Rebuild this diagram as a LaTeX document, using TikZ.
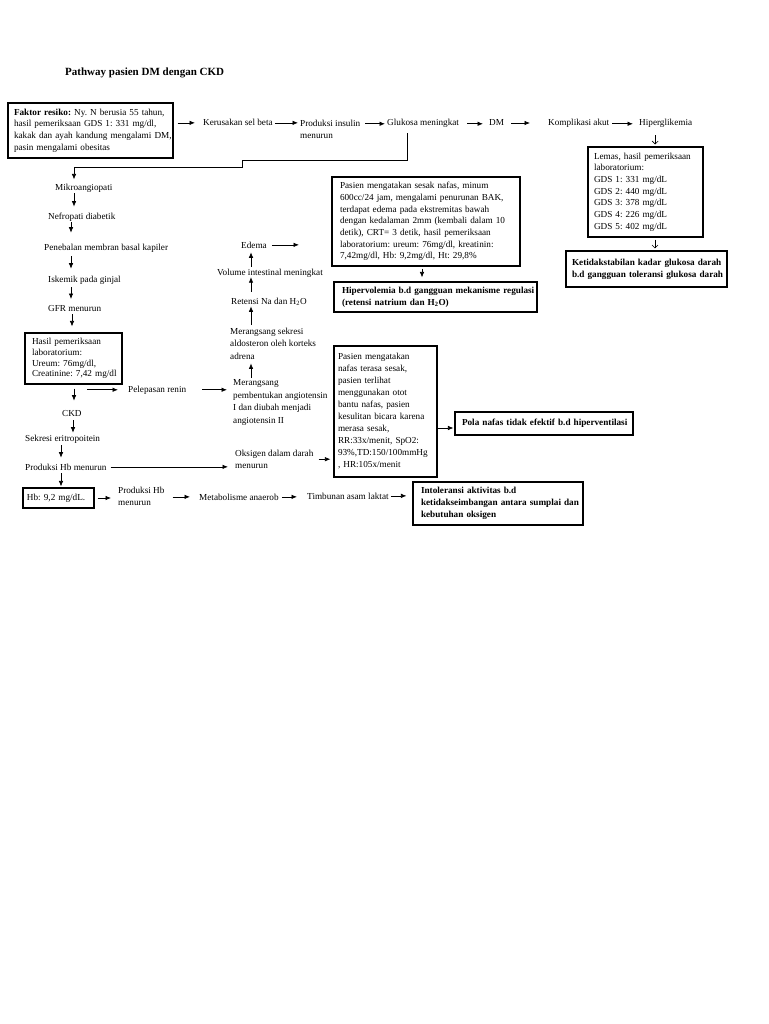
\documentclass[tikz,border=0pt]{standalone}
\usepackage{fontspec}
\setmainfont{Liberation Serif}
\usetikzlibrary{arrows.meta}
\newcommand\fs{\fontsize{9.2pt}{11.7pt}\selectfont}
\newcommand\fsl{\fontsize{9.2pt}{12.5pt}\selectfont}
\newcommand\fsh{\fontsize{9.2pt}{10.7pt}\selectfont}
\newcommand\fsp{\fontsize{9.2pt}{12pt}\selectfont}
\newcommand\fsb{\fontsize{9.2pt}{12.3pt}\selectfont\bfseries}
\newcommand\LL[1]{\mbox{#1}}
\frenchspacing
\begin{document}
\begin{tikzpicture}[x=1pt,y=-1pt,
  t/.style={font=\fs, inner sep=0pt, anchor=base west},
  tm/.style={font=\fsl, inner sep=0pt, anchor=north west, align=left},
  box/.style={draw, line width=1.1pt, inner xsep=0pt, inner ysep=0pt, font=\fs, align=left},
  arr/.style={line width=0.7pt, line join=miter, -{Latex[length=5.5pt,width=4.5pt]}},
  varr/.style={line width=0.6pt, -{Straight Barb[length=3pt,width=6pt]}}
]
\useasboundingbox (0,0) rectangle (768,1024);

% title
\node[anchor=base west, inner sep=0pt, font=\fontsize{11pt}{13pt}\selectfont\bfseries] (title) at (65,76) {Pathway pasien DM dengan CKD};

% row 1
\node[box, minimum width=165pt, minimum height=55pt, text width=153pt] (faktor) at (90.5,130.5)
 {\makebox[153pt][s]{\textbf{Faktor resiko:} Ny. N berusia 55 tahun,}\\
  \makebox[153pt][s]{hasil pemeriksaan GDS 1: 331 mg/dl,}\\
  \makebox[153pt][s]{kakak dan ayah kandung mengalami DM,}\\
  \LL{pasin mengalami obesitas}};
\node[t] (kerusakan) at (203,126) {Kerusakan sel beta};
\node[tm] (produksi) at (300,119.5) {Produksi insulin\\menurun};
\node[t] (glukosa) at (387,126) {Glukosa meningkat};
\node[t] (dm) at (489,126) {DM};
\node[t] (komplikasi) at (548,126) {Komplikasi akut};
\node[t] (hiperg) at (639,126) {Hiperglikemia};

\node[box, minimum width=115pt, minimum height=90pt, text width=103pt] (lemas) at (645.5,192)
 {\makebox[103pt][s]{Lemas, hasil pemeriksaan}\\
  \LL{laboratorium:}\\
  \LL{GDS 1: 331 mg/dL}\\
  \LL{GDS 2: 440 mg/dL}\\
  \LL{GDS 3: 378 mg/dL}\\
  \LL{GDS 4: 226 mg/dL}\\
  \LL{GDS 5: 402 mg/dL}};
\node[box, font=\fsb, minimum width=161pt, minimum height=36pt, text width=149pt] (ketidak) at (646.5,269)
 {\LL{Ketidakstabilan kadar glukosa darah}\\
  \LL{b.d gangguan toleransi glukosa darah}};

% left column
\node[t] (mikro) at (55,191) {Mikroangiopati};
\node[t] (nefro) at (48,220) {Nefropati diabetik};
\node[t] (penebalan) at (44,250) {Penebalan membran basal kapiler};
\node[t] (iskemik) at (48,282) {Iskemik pada ginjal};
\node[t] (gfr) at (48,311) {GFR menurun};
\node[box, font=\fsh, minimum width=97pt, minimum height=51pt, text width=83pt] (hasil) at (73.5,358.5)
 {\LL{Hasil pemeriksaan}\\
  \LL{laboratorium:}\\
  \LL{Ureum: 76mg/dl,}\\
  \LL{Creatinine: 7,42 mg/dl}};
\node[t] (pelepasan) at (128,392) {Pelepasan renin};
\node[t] (ckd) at (62,416) {CKD};
\node[t] (sekresi) at (25,441) {Sekresi eritropoitein};
\node[t] (prodhb) at (25,470) {Produksi Hb menurun};
\node[box, minimum width=71pt, minimum height=20pt, text width=63pt] (hb) at (58.5,498) {\LL{Hb: 9,2 mg/dL.}};
\node[tm] (prodhb2) at (118,486.5) {Produksi Hb\\menurun};
\node[t] (metab) at (199,500) {Metabolisme anaerob};
\node[t] (timbunan) at (307,499) {Timbunan asam laktat};
\node[box, font=\fsb, minimum width=170pt, minimum height=43pt, text width=154pt] (intol) at (498,503.5)
 {\LL{Intoleransi aktivitas b.d}\\
  \LL{ketidakseimbangan antara sumplai dan}\\
  \LL{kebutuhan oksigen}};

% middle column
\node[t] (edema) at (241,248) {Edema};
\node[t] (volume) at (217,275) {Volume intestinal meningkat};
\node[t] (retensi) at (231,304) {Retensi Na dan H\textsubscript{2}O};
\node[tm] (aldo) at (230,327.5) {Merangsang sekresi\\aldosteron oleh korteks\\adrena};
\node[tm] (angio) at (233,379.5) {Merangsang\\pembentukan angiotensin\\I dan diubah menjadi\\angiotensin II};
\node[tm] (oksigen) at (235,449.5) {Oksigen dalam darah\\menurun};

\node[box, minimum width=188pt, minimum height=89pt, text width=172pt] (pasien1) at (426,221.5)
 {\LL{Pasien mengatakan sesak nafas, minum}\\
  \LL{600cc/24 jam, mengalami penurunan BAK,}\\
  \LL{terdapat edema pada ekstremitas bawah}\\
  \LL{dengan kedalaman 2mm (kembali dalam 10}\\
  \LL{detik), CRT= 3 detik, hasil pemeriksaan}\\
  \LL{laboratorium: ureum: 76mg/dl, kreatinin:}\\
  \LL{7,42mg/dl, Hb: 9,2mg/dl, Ht: 29,8\%}};
\node[box, font=\fsb, minimum width=203pt, minimum height=30pt, text width=187pt] (hiper) at (435.5,297)
 {\LL{Hipervolemia b.d gangguan mekanisme regulasi}\\
  \LL{(retensi natrium dan H\textsubscript{2}O)}};
\node[box, font=\fsp, minimum width=103pt, minimum height=131pt, text width=95pt] (pasien2) at (385.5,411.5)
 {\LL{Pasien mengatakan}\\
  \LL{nafas terasa sesak,}\\
  \LL{pasien terlihat}\\
  \LL{menggunakan otot}\\
  \LL{bantu nafas, pasien}\\
  \LL{kesulitan bicara karena}\\
  \LL{merasa sesak,}\\
  \LL{RR:33x/menit, SpO2:}\\
  \LL{93\%,TD:150/100mmHg}\\
  \LL{, HR:105x/menit}};
\node[box, font=\fsb, minimum width=178pt, minimum height=23pt, text width=164pt] (pola) at (544,423.5)
 {\LL{Pola nafas tidak efektif b.d hiperventilasi}};

% helper coordinates
\coordinate (s1) at (242,160);
\coordinate (s2) at (242,167);
\coordinate (s3) at (74,167);
\coordinate (c74) at (74,0);
\coordinate (c73) at (73,0);
\coordinate (c72) at (72,0);
\coordinate (c71) at (71,0);
\coordinate (c61) at (61,0);
\coordinate (c251) at (251,0);
\coordinate (c422) at (422,0);
\coordinate (ee) at (299,245);
\coordinate (g0) at ([xshift=-16pt]glukosa.south);
\coordinate (hx) at ([xshift=-10.5pt]hiperg.south);
\coordinate (lx) at ([xshift=9.5pt]lemas.south);
\coordinate (pw) at ([yshift=-4.5pt]pola.west);
\coordinate (h1) at ([xshift=13.5pt]hasil.south);

% row 1 connectors
\draw[arr, shorten <=4pt, shorten >=8pt] (faktor.east |- kerusakan.west) -- (kerusakan.west);
\draw[arr, shorten <=2pt, shorten >=2pt] (kerusakan.east) -- (kerusakan.east -| produksi.west);
\draw[arr, shorten <=5pt, shorten >=2pt] (glukosa.west -| produksi.east) -- (glukosa.west);
\draw[arr, shorten <=8pt, shorten >=6pt] (glukosa.east) -- (glukosa.east -| dm.west);
\draw[arr, shorten <=7pt, shorten >=18pt] (dm.east) -- (dm.east -| komplikasi.west);
\draw[arr, shorten <=3pt, shorten >=6pt] (komplikasi.east) -- (komplikasi.east -| hiperg.west);
\draw[varr, shorten <=7pt, shorten >=2pt] (hx) -- (hx |- lemas.north);
\draw[varr, shorten <=2pt, shorten >=2pt] (lx) -- (lx |- ketidak.north);

% glukosa to left column
\draw[arr, shorten <=5pt, shorten >=5pt] (g0) |- (s1) -- (s2) -- (s3) -- (s3 |- mikro.north);

% left column
\draw[arr, shorten >=6.7pt] (mikro.south -| c74) -- (nefro.north -| c74);
\draw[arr, shorten >=10.7pt] (nefro.south -| c71) -- (penebalan.north -| c71);
\draw[arr, shorten <=4pt, shorten >=6.7pt] (penebalan.south -| c71) -- (iskemik.north -| c71);
\draw[arr, shorten <=3pt, shorten >=5.7pt] (iskemik.south -| c71) -- (gfr.north -| c71);
\draw[arr, shorten <=3pt, shorten >=6pt] (gfr.south -| c72) -- (hasil.north -| c72);
\draw[arr, shorten <=4pt, shorten >=9pt] (hasil.south -| c74) -- (ckd.north -| c74);
\draw[arr, shorten <=4pt, shorten >=1.7pt] (ckd.south -| c73) -- (sekresi.north -| c73);
\draw[arr, shorten <=2pt, shorten >=5.7pt] (sekresi.south -| c61) -- (prodhb.north -| c61);
\draw[arr, shorten <=3pt, shorten >=1pt] (prodhb.south -| c61) -- (hb.north -| c61);

% renin / angiotensin chain
\draw[arr, shorten >=10pt] (h1 |- pelepasan.west) -- (pelepasan.west);
\draw[arr, shorten <=16pt, shorten >=6pt] (pelepasan.east) -- (pelepasan.east -| angio.west);
\draw[arr, shorten <=1.5pt, shorten >=4pt] (angio.north -| c251) -- (aldo.south -| c251);
\draw[arr, shorten <=2.5pt, shorten >=1pt] (aldo.north -| c251) -- (retensi.south -| c251);
\draw[arr, shorten <=5.7pt] (retensi.north -| c251) -- (volume.south -| c251);
\draw[arr, shorten <=1.7pt, shorten >=4pt] (volume.north -| c251) -- (edema.south -| c251);
\draw[arr, shorten <=5pt] (edema.east) -- (edema.east -| ee);
\draw[arr, shorten <=2pt, shorten >=4pt] (pasien1.south -| c422) -- (hiper.north -| c422);

% oxygen chain
\draw[arr, shorten <=4pt, shorten >=7pt] (prodhb.east) -- (prodhb.east -| oksigen.west);
\draw[arr, shorten <=5pt, shorten >=3pt] (oksigen.east) -- (oksigen.east -| pasien2.west);
\draw[arr, shorten >=1pt] (pasien2.east |- pw) -- (pw);

% bottom row
\draw[arr, shorten <=3pt, shorten >=7pt] (hb.east) -- (hb.east -| prodhb2.west);
\draw[arr, shorten <=8pt, shorten >=9pt] (metab.west -| prodhb2.east) -- (metab.west);
\draw[arr, shorten <=3pt, shorten >=10pt] (metab.east) -- (metab.east -| timbunan.west);
\draw[arr, shorten <=2pt, shorten >=6pt] (timbunan.east) -- (timbunan.east -| intol.west);
\end{tikzpicture}
\end{document}
